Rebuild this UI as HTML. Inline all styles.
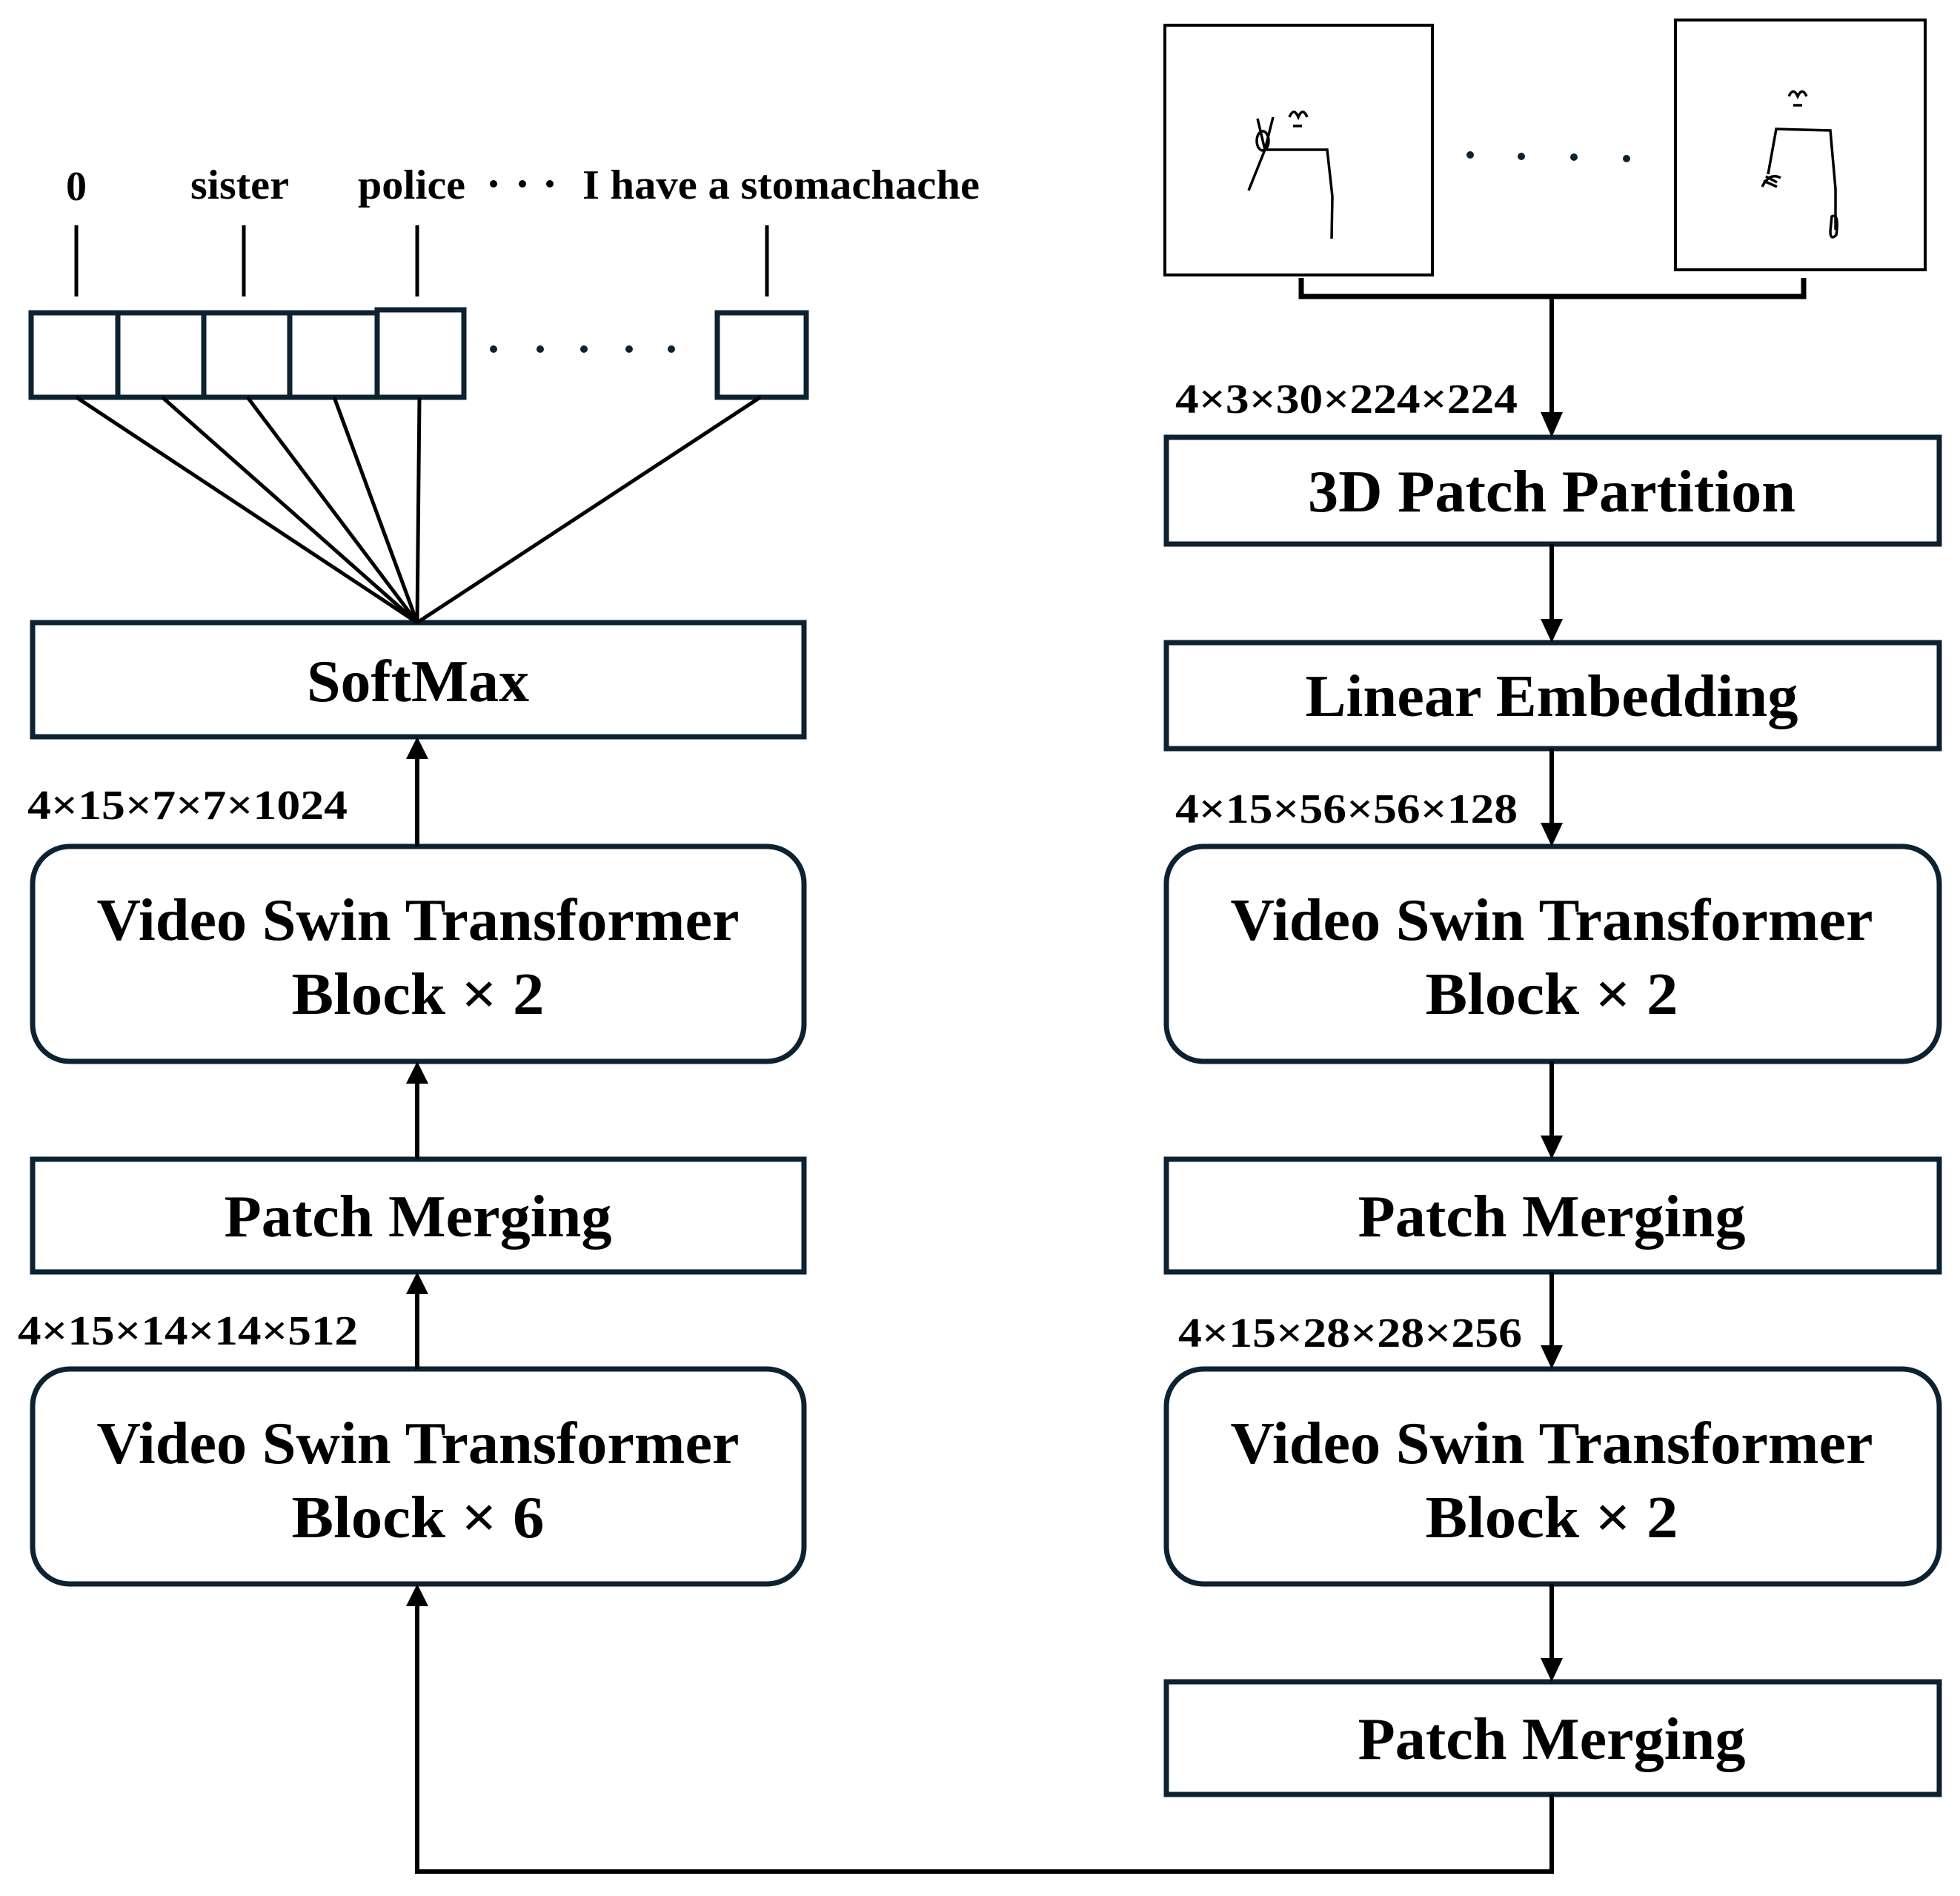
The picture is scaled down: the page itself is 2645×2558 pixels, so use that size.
<!DOCTYPE html>
<html><head><meta charset="utf-8"><style>body{margin:0;background:#fff}svg{display:block}</style></head><body>
<svg width="2645" height="2558" viewBox="0 0 2645 2558" xmlns="http://www.w3.org/2000/svg" font-family="'Liberation Serif',serif" font-weight="bold">
<g fill="#fff" stroke="#0d2230" stroke-width="7">
<rect x="42" y="422" width="117" height="114"/><rect x="159" y="422" width="116" height="114"/><rect x="275" y="422" width="116" height="114"/><rect x="391" y="422" width="118" height="114"/><rect x="509" y="418" width="117" height="118"/><rect x="968" y="422" width="120" height="114"/>
<rect x="44" y="840" width="1041" height="154"/>
<rect x="44" y="1142" width="1041" height="290" rx="50"/>
<rect x="44" y="1564" width="1041" height="152"/>
<rect x="44" y="1847" width="1041" height="290" rx="50"/>
<rect x="1574" y="590" width="1043" height="144"/>
<rect x="1574" y="867" width="1043" height="143"/>
<rect x="1574" y="1142" width="1043" height="290" rx="50"/>
<rect x="1574" y="1564" width="1043" height="152"/>
<rect x="1574" y="1847" width="1043" height="290" rx="50"/>
<rect x="1574" y="2269" width="1043" height="152"/>
</g>
<g stroke="#000" stroke-width="5" fill="none">
<line x1="103" y1="304" x2="103" y2="400"/><line x1="329" y1="304" x2="329" y2="400"/><line x1="563" y1="304" x2="563" y2="400"/><line x1="1035" y1="304" x2="1035" y2="400"/>
<line x1="103" y1="536" x2="563" y2="840"/><line x1="219" y1="536" x2="563" y2="840"/><line x1="334" y1="536" x2="563" y2="840"/><line x1="451" y1="536" x2="563" y2="840"/><line x1="566" y1="536" x2="563" y2="840"/><line x1="1026" y1="536" x2="563" y2="840"/>
</g>
<g stroke="#000" stroke-width="6" fill="none">
<line x1="563" y1="1142" x2="563" y2="1020"/>
<line x1="563" y1="1564" x2="563" y2="1460"/>
<line x1="563" y1="1847" x2="563" y2="1742"/>
<polyline points="2094,2421 2094,2525 563,2525 563,2165"/>
<line x1="2094" y1="400" x2="2094" y2="560"/>
<line x1="2094" y1="734" x2="2094" y2="840"/>
<line x1="2094" y1="1010" x2="2094" y2="1115"/>
<line x1="2094" y1="1432" x2="2094" y2="1537"/>
<line x1="2094" y1="1716" x2="2094" y2="1820"/>
<line x1="2094" y1="2137" x2="2094" y2="2242"/>
</g>
<g fill="#000">
<polygon points="563,994 548,1024 578,1024"/>
<polygon points="563,1432 548,1462 578,1462"/>
<polygon points="563,1716 548,1746 578,1746"/>
<polygon points="563,2137 548,2167 578,2167"/>
<polygon points="2094,590 2079,556 2109,556"/>
<polygon points="2094,867 2079,835 2109,835"/>
<polygon points="2094,1142 2079,1110 2109,1110"/>
<polygon points="2094,1564 2079,1532 2109,1532"/>
<polygon points="2094,1847 2079,1815 2109,1815"/>
<polygon points="2094,2269 2079,2237 2109,2237"/>
</g>
<polyline points="1756,375 1756,400 2434,400 2434,375" stroke="#000" stroke-width="7" fill="none"/>
<g fill="#0d2230"><circle cx="666" cy="471" r="5"/><circle cx="729" cy="471" r="5"/><circle cx="788" cy="471" r="5"/><circle cx="849" cy="471" r="5"/><circle cx="906" cy="471" r="5"/>
<circle cx="1984" cy="209" r="5"/><circle cx="2053" cy="211" r="5"/><circle cx="2124" cy="212" r="5"/><circle cx="2195" cy="214" r="5"/></g>
<g fill="#000"><circle cx="666" cy="248" r="5"/><circle cx="705" cy="248" r="5"/><circle cx="742" cy="248" r="5"/></g>
<rect x="1572" y="34" width="361" height="337" fill="#fff" stroke="#000" stroke-width="4"/>
<rect x="2261" y="27" width="337" height="337" fill="#fff" stroke="#000" stroke-width="4"/>
<g stroke="#000" stroke-width="3.5" fill="none">
<polyline points="1685,257 1707,202 1791,202 1798,265 1797,322"/><line x1="1707" y1="202" x2="1697" y2="160"/><line x1="1707" y1="202" x2="1718" y2="158"/><ellipse cx="1704" cy="190" rx="8" ry="13"/>
<path d="M1740,158 q6,-14 12,0 q6,-14 12,0"/><line x1="1745" y1="170" x2="1757" y2="170"/>
<polyline points="2386,235 2397,174 2470,176 2477,255 2477,310"/><path d="M2378,252 q10,-20 25,-12 M2380,244 l18,8 M2383,238 l15,8"/><path d="M2472,292 q10,-5 6,25 q-8,8 -8,-5z"/>
<path d="M2414,130 q6,-13 12,0 q6,-13 12,0"/><line x1="2420" y1="142" x2="2432" y2="142"/>
</g>
<g font-size="56" fill="#000" lengthAdjust="spacingAndGlyphs">
<text x="103" y="270" text-anchor="middle">0</text>
<text x="257" y="268" textLength="133" lengthAdjust="spacingAndGlyphs">sister</text>
<text x="483" y="268" textLength="145" lengthAdjust="spacingAndGlyphs">police</text>
<text x="786" y="268" textLength="536" lengthAdjust="spacingAndGlyphs">I have a stomachache</text>
<text x="37" y="1105" textLength="432" lengthAdjust="spacingAndGlyphs">4×15×7×7×1024</text>
<text x="24" y="1814" textLength="459" lengthAdjust="spacingAndGlyphs">4×15×14×14×512</text>
<text x="1586" y="557" textLength="462" lengthAdjust="spacingAndGlyphs">4×3×30×224×224</text>
<text x="1586" y="1110" textLength="462" lengthAdjust="spacingAndGlyphs">4×15×56×56×128</text>
<text x="1590" y="1817" textLength="464" lengthAdjust="spacingAndGlyphs">4×15×28×28×256</text>
</g>
<g font-size="80" fill="#000" text-anchor="middle">
<text x="564" y="946" textLength="300" lengthAdjust="spacingAndGlyphs">SoftMax</text>
<text x="564" y="1268" textLength="867" lengthAdjust="spacingAndGlyphs">Video Swin Transformer</text><text x="564" y="1368" textLength="341" lengthAdjust="spacingAndGlyphs">Block × 2</text>
<text x="564" y="1668" textLength="523" lengthAdjust="spacingAndGlyphs">Patch Merging</text>
<text x="564" y="1974" textLength="867" lengthAdjust="spacingAndGlyphs">Video Swin Transformer</text><text x="564" y="2074" textLength="341" lengthAdjust="spacingAndGlyphs">Block × 6</text>
<text x="2094" y="690" textLength="658" lengthAdjust="spacingAndGlyphs">3D Patch Partition</text>
<text x="2094" y="966" textLength="665" lengthAdjust="spacingAndGlyphs">Linear Embedding</text>
<text x="2094" y="1268" textLength="867" lengthAdjust="spacingAndGlyphs">Video Swin Transformer</text><text x="2094" y="1368" textLength="341" lengthAdjust="spacingAndGlyphs">Block × 2</text>
<text x="2094" y="1668" textLength="523" lengthAdjust="spacingAndGlyphs">Patch Merging</text>
<text x="2094" y="1974" textLength="867" lengthAdjust="spacingAndGlyphs">Video Swin Transformer</text><text x="2094" y="2074" textLength="341" lengthAdjust="spacingAndGlyphs">Block × 2</text>
<text x="2094" y="2373" textLength="523" lengthAdjust="spacingAndGlyphs">Patch Merging</text>
</g>
</svg>
</body></html>
